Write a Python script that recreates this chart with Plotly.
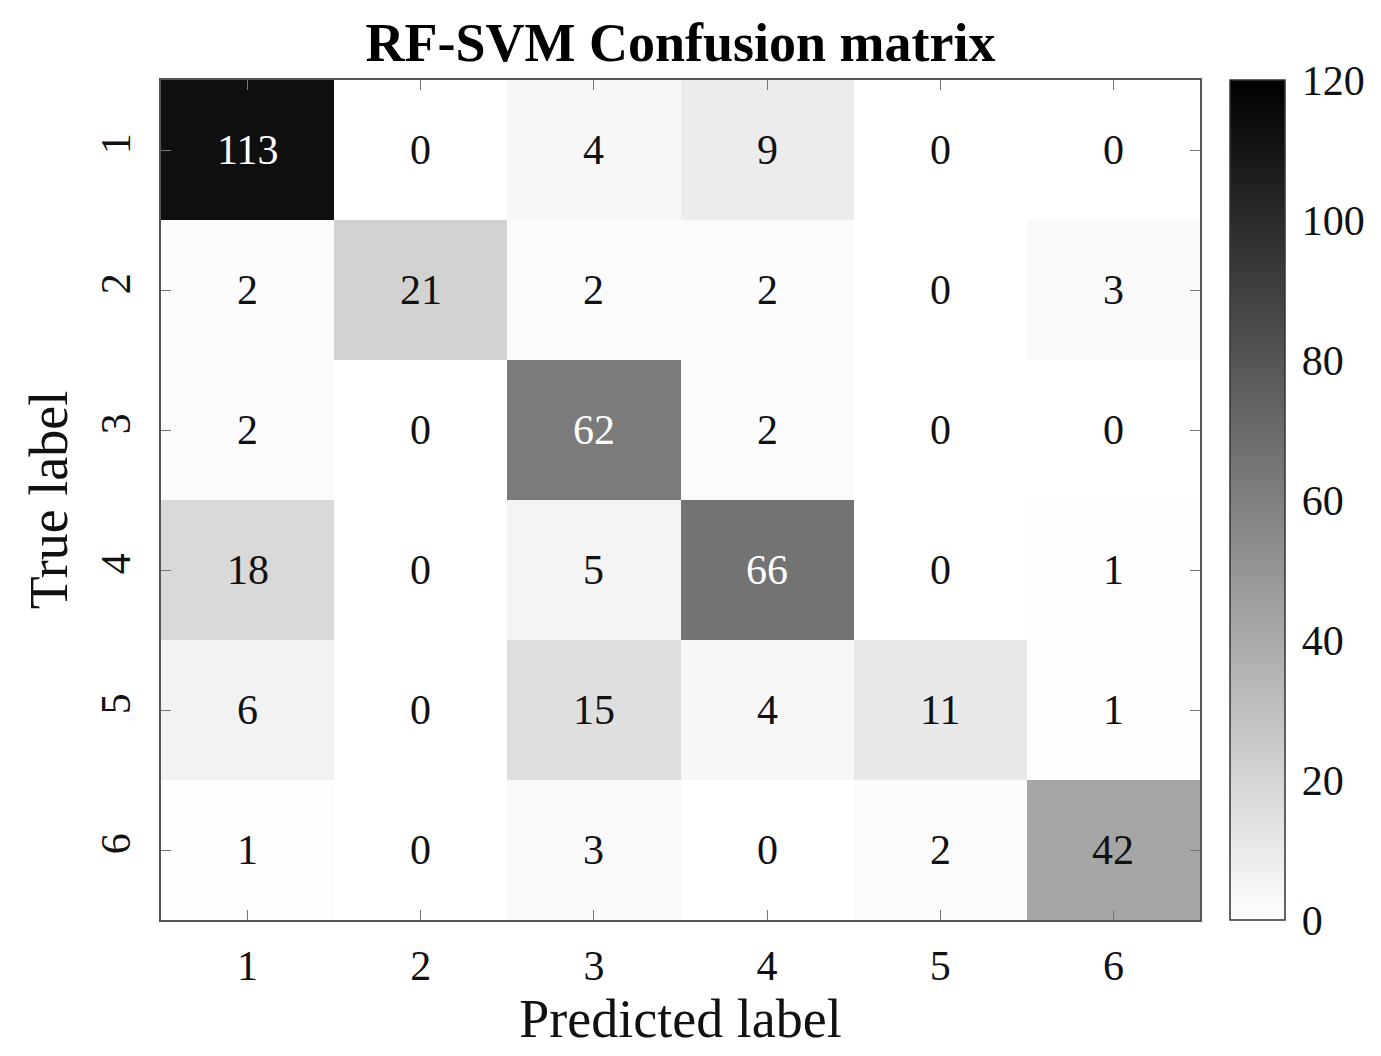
import plotly.graph_objects as go

labels = [1, 2, 3, 4, 5, 6]
counts = [
    [113, 0, 4, 9, 0, 0],
    [2, 21, 2, 2, 0, 3],
    [2, 0, 62, 2, 0, 0],
    [18, 0, 5, 66, 0, 1],
    [6, 0, 15, 4, 11, 1],
    [1, 0, 3, 0, 2, 42],
]
cbar_ticks = [0, 20, 40, 60, 80, 100, 120]

serif = "Liberation Serif"

fig = go.Figure(
    go.Heatmap(
        x=labels,
        y=labels,
        z=counts,
        zmin=0,
        zmax=120,
        colorscale=[[0, "#ffffff"], [1, "#000000"]],
        colorbar=dict(
            x=1.0289,
            xanchor="left",
            xpad=0,
            y=0.5,
            yanchor="middle",
            ypad=0,
            len=1,
            thickness=55,
            outlinewidth=1.5,
            outlinecolor="#333333",
            tickvals=cbar_ticks,
            ticks="outside",
            ticklen=8,
            tickcolor="rgba(0,0,0,0)",
            tickfont=dict(family=serif, size=42, color="#111111"),
        ),
        hoverongaps=False,
    )
)

for i, row in enumerate(counts):
    for j, v in enumerate(row):
        fig.add_annotation(
            x=labels[j],
            y=labels[i],
            text=str(v),
            showarrow=False,
            font=dict(family=serif, size=42, color="white" if v > 60 else "#111111"),
        )

axis_common = dict(
    showline=True,
    linecolor="#555555",
    linewidth=2,
    mirror="ticks",
    ticks="inside",
    ticklen=10,
    tickcolor="#777777",
    tickvals=labels,
    showgrid=False,
    zeroline=False,
    tickfont=dict(family=serif, size=42, color="#111111"),
)

fig.update_layout(
    width=1373,
    height=1048,
    margin=dict(l=153, r=181, t=72, b=136),
    paper_bgcolor="white",
    plot_bgcolor="white",
    title=dict(
        text="<b>RF-SVM Confusion matrix</b>",
        x=(153 + 1192) / 2 / 1373,
        xanchor="center",
        y=1 - 34 / 1048,
        yanchor="middle",
        font=dict(family=serif, size=54, color="black"),
    ),
    xaxis=dict(
        axis_common,
        range=[0.5, 6.5],
        title=dict(text="Predicted label", font=dict(family=serif, size=54, color="#111111"), standoff=10),
        ticklabelstandoff=8,
    ),
    yaxis=dict(
        axis_common,
        range=[6.5, 0.5],
        tickangle=-90,
        title=dict(text="True label", font=dict(family=serif, size=54, color="#111111"), standoff=8),
        ticklabelstandoff=12,
    ),
)

fig.write_html("out.html")
